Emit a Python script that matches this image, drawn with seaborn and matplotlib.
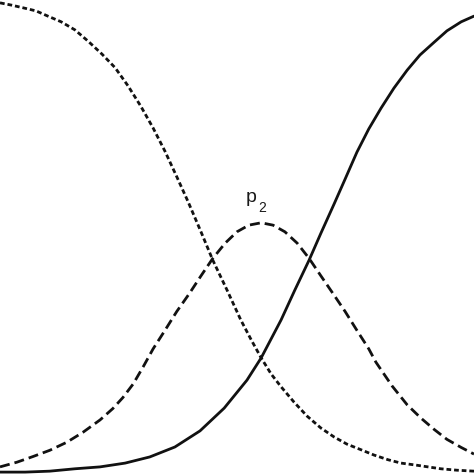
import matplotlib
matplotlib.use("Agg")
import matplotlib.pyplot as plt
import seaborn as sns
import pandas as pd

# values (x on a 0-10 scale, probabilities 0-1)
x_p1 = [0.0, 0.25, 0.51, 0.76, 1.01, 1.29, 1.58, 1.86, 2.15, 2.43, 2.70, 2.97, 3.23,
        3.48, 3.73, 3.97, 4.24, 4.49, 4.79, 5.08, 5.30, 5.51, 5.72, 5.93, 6.20, 6.48,
        6.77, 7.05, 7.32, 7.62, 7.89, 8.19, 8.46, 8.76, 9.03, 9.30, 9.64, 10.0]
p1 = [0.994, 0.989, 0.983, 0.977, 0.966, 0.954, 0.937, 0.913, 0.886, 0.857, 0.819, 0.776, 0.730,
      0.681, 0.627, 0.574, 0.511, 0.451, 0.388, 0.325, 0.283, 0.245, 0.211, 0.184, 0.152, 0.122,
      0.097, 0.078, 0.063, 0.051, 0.040, 0.030, 0.023, 0.019, 0.015, 0.011, 0.008, 0.006]

x_p2 = [0.0, 0.36, 0.70, 1.05, 1.41, 1.75, 2.11, 2.38, 2.59, 2.81, 3.02, 3.23, 3.48,
        3.73, 3.99, 4.24, 4.49, 4.75, 5.00, 5.25, 5.51, 5.76, 6.01, 6.27, 6.52, 6.77,
        7.03, 7.28, 7.53, 7.78, 7.93, 8.27, 8.59, 8.88, 9.16, 9.43, 9.73, 10.0]
p2 = [0.015, 0.025, 0.037, 0.050, 0.067, 0.088, 0.114, 0.138, 0.161, 0.190, 0.226, 0.264, 0.303,
      0.343, 0.380, 0.418, 0.455, 0.487, 0.511, 0.525, 0.530, 0.525, 0.511, 0.487, 0.455, 0.418,
      0.380, 0.343, 0.303, 0.264, 0.236, 0.186, 0.146, 0.118, 0.094, 0.073, 0.056, 0.042]

x_p3 = [0.0, 0.53, 1.05, 1.58, 2.11, 2.64, 3.16, 3.69, 4.22, 4.73, 5.21, 5.51, 5.93,
        6.22, 6.52, 6.77, 7.05, 7.28, 7.53, 7.78, 8.04, 8.31, 8.59, 8.86, 9.16, 9.43,
        9.73, 10.0]
p3 = [0.004, 0.004, 0.006, 0.011, 0.015, 0.023, 0.036, 0.057, 0.091, 0.139, 0.198, 0.245, 0.325,
      0.388, 0.451, 0.508, 0.570, 0.622, 0.679, 0.728, 0.772, 0.814, 0.852, 0.884, 0.911, 0.935,
      0.954, 0.966]

df = pd.concat([
    pd.DataFrame({"x": x_p1, "p": p1, "curve": "p1"}),
    pd.DataFrame({"x": x_p2, "p": p2, "curve": "p2"}),
    pd.DataFrame({"x": x_p3, "p": p3, "curve": "p3"}),
])

sns.set_style("white")
plt.rcParams["font.family"] = ["Liberation Sans", "DejaVu Sans"]

fig = plt.figure(figsize=(4.74, 4.74), dpi=100)
ax = fig.add_axes([0, 0, 1, 1])
sns.lineplot(data=df, x="x", y="p", style="curve", color="#111111", linewidth=2.0,
             dashes={"p1": (1.7, 1.05), "p2": (3.6, 1.8), "p3": ""},
             legend=False, ax=ax)
# label for the middle curve, subscript drawn as its own text
ax.text(5.19, 0.574, "p", fontsize=14, ha="left", va="baseline", color="#1a1a1a")
ax.text(5.44, 0.553, "2", fontsize=10, ha="left", va="baseline", color="#1a1a1a")
ax.set_xlim(0, 10)
ax.set_ylim(0, 1)
ax.axis("off")
fig.savefig("out.png", dpi=100)
